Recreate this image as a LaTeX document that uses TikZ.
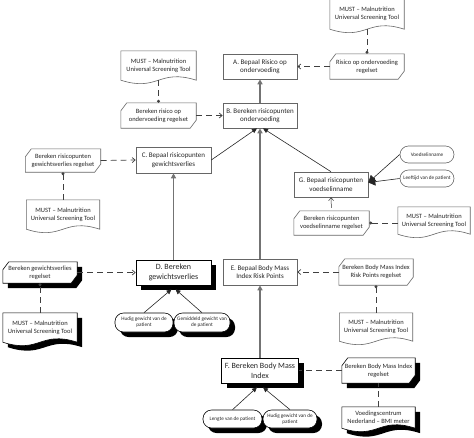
\documentclass[tikz,border=0pt]{standalone}
\usepackage{fontspec}
\setmainfont{Carlito}
\usetikzlibrary{arrows.meta,calc,shadows}
\pgfdeclarelayer{bg}
\pgfsetlayers{bg,main}
\tikzset{
  txt/.style={text=black!85, inner sep=0pt, align=center},
  box/.style={txt, draw=black!60, line width=0.6pt, fill=white, minimum width=74pt, minimum height=25pt, font=\fontsize{7}{8.5}\selectfont},
  blackshadow/.style={drop shadow={shadow xshift=5pt, shadow yshift=-5pt, fill=black, opacity=1}},
  bigbox/.style={box, draw=black, font=\fontsize{8}{10}\selectfont, blackshadow},
  reg/.style={txt, minimum width=74pt, minimum height=25pt, font=\fontsize{6.5}{8}\selectfont},
  doc/.style={txt, minimum width=74pt, minimum height=29pt, font=\fontsize{6.5}{8}\selectfont},
  pill/.style={txt, draw=black!60, line width=0.6pt, fill=white, rounded corners=8.5pt, minimum width=56pt, minimum height=18pt, font=\fontsize{5.2}{6.2}\selectfont},
  pillshadow/.style={pill, draw=black, blackshadow},
  outline/.style={draw=black!60, line width=0.6pt, fill=white},
  dashline/.style={draw=black!75, line width=0.7pt, dash pattern=on 6pt off 4pt},
  dasharrow/.style={dashline, -{Straight Barb[length=3pt,width=5pt]}},
  dotline/.style={dashline, -{Circle[length=3pt]}},
  thickarrow/.style={draw=black!55, line width=1.4pt, -{Triangle[length=5pt,width=5pt]}},
  thinarrow/.style={draw=black!85, line width=0.6pt, -{Triangle[length=5pt,width=4.5pt]}},
  bigtri/.style={draw=black!85, line width=0.6pt, -{Triangle[length=7pt,width=8pt]}},
  openarrow/.style={draw=black!80, line width=0.5pt, -{Straight Barb[length=3pt,width=5pt]}},
}
\newcommand\regshape[2][]{%
  \begin{pgfonlayer}{bg}
  \path[outline,#1] ([xshift=6pt]#2.north west) -- (#2.north east) -- ([yshift=8pt]#2.south east)
    -- ([xshift=-6pt]#2.south east) -- (#2.south west) -- ([yshift=-8pt]#2.north west) -- cycle;
  \end{pgfonlayer}}
\newcommand\docshape[2][]{%
  \begin{pgfonlayer}{bg}
  \path[outline,#1] (#2.north west) -- (#2.north east) -- (#2.south east)
    .. controls ([yshift=12pt]#2.south) and ([yshift=-12pt]#2.south) .. (#2.south west) -- cycle;
  \end{pgfonlayer}}
\begin{document}
\begin{tikzpicture}[x=1pt,y=-1pt]
\useasboundingbox (0,0) rectangle (474,437);
% process boxes
\node[box] (A) at (260,66.5) {A. Bepaal Risico op\\ondervoeding};
\node[box] (B) at (260,115.5) {B. Bereken risicopunten\\ondervoeding};
\node[box, minimum width=75pt, minimum height=26pt] (C) at (173.5,160) {C. Bepaal risicopunten\\gewichtsverlies};
\node[box] (G) at (331,184.5) {G. Bepaal risicopunten\\voedselinname};
\node[bigbox, minimum width=75pt] (D) at (173.5,272.5) {D. Bereken\\gewichtsverlies};
\node[box, minimum height=26pt] (E) at (260,272) {E. Bepaal Body Mass\\Index Risk Points};
\node[bigbox, minimum width=77pt] (F) at (260,370.5) {F. Bereken Body Mass\\Index};
% regelset shapes
\node[reg] (RA) at (367,66.5) {Risico op ondervoeding\\regelset};
\regshape{RA}
\node[reg, minimum width=75pt] (RB) at (158.5,115.5) {Bereken risico op\\ondervoeding regelset};
\regshape{RB}
\node[reg, minimum width=75pt, minimum height=23pt] (RC) at (63,160.5) {Bereken risicopunten\\gewichtsverlies regelset};
\regshape{RC}
\node[reg, minimum width=75pt, minimum height=24pt] (RG) at (331.5,223) {Bereken risicopunten\\voedselinname regelset};
\regshape{RG}
\node[reg, minimum height=21pt] (RD) at (40,272.5) {Bereken gewichtsverlies\\regelset};
\regshape[draw=black, blackshadow]{RD}
\node[reg, minimum height=26pt] (RE) at (376,272) {Bereken Body Mass Index\\Risk Points regelset};
\regshape{RE}
\node[reg, minimum width=73pt] (RF) at (378.5,370.5) {Bereken Body Mass Index\\regelset};
\regshape[draw=black, blackshadow]{RF}
% documents
\node[doc, minimum height=31pt] (M1) at (367,13.5) {MUST -- Malnutrition\\Universal Screening Tool};
\docshape{M1}
\node[doc, minimum width=75pt] (M2) at (158.5,65.5) {MUST -- Malnutrition\\Universal Screening Tool};
\docshape{M2}
\node[doc, minimum width=73pt] (M3) at (63,214.5) {MUST -- Malnutrition\\Universal Screening Tool};
\docshape{M3}
\node[doc, minimum width=72pt, minimum height=27pt] (M4) at (434,220.5) {MUST -- Malnutrition\\Universal Screening Tool};
\docshape{M4}
\node[doc, minimum width=73pt, minimum height=28pt] (M5) at (376,327) {MUST -- Malnutrition\\Universal Screening Tool};
\docshape{M5}
\node[doc] (M6) at (40,327.5) {MUST -- Malnutrition\\Universal Screening Tool};
\docshape[draw=black, blackshadow]{M6}
\node[doc, minimum width=73pt, minimum height=21pt] (M7) at (378.5,417.5) {Voedingscentrum\\Nederland -- BMI meter};
\docshape[draw=black, blackshadow]{M7}
% terminals
\node[pill, minimum width=54pt, minimum height=17pt] (V) at (427,154.5) {Voedselinname};
\node[pill, minimum width=54pt, minimum height=17pt] (L) at (427,178.5) {Leeftijd van de patient};
\node[pillshadow, minimum width=58pt, minimum height=19pt] (H1) at (144,322.5) {Hudig gewicht van de\\patient};
\node[pillshadow, minimum height=19pt] (G1) at (202,322.5) {Gemiddeld gewicht van\\de patient};
\node[pillshadow, minimum width=59pt] (Lp) at (232.5,419) {Lengte van de patient};
\node[pillshadow, minimum width=54pt] (H2) at (290,419) {Hudig gewicht van de\\patient};
% connectors
\draw[dotline] (M1.south) -- (RA.north);
\draw[dasharrow] (RA.west) -- (A.east);
\draw[thickarrow] (B.north) -- (A.south);
\draw[dotline] (M2.south) -- (RB.north);
\draw[dasharrow] (RB.east) -- (B.west);
\draw[thinarrow] (C.east) -- ([xshift=-3pt]B.south);
\draw[thickarrow] (E.north) -- (B.south);
\draw[thinarrow] (G.north) -- ([xshift=3pt]B.south);
\draw[dasharrow] (RC.east) -- (C.west);
\draw[dotline] (M3.north) -- (RC.south);
\draw[bigtri] (V.west) -- ([yshift=2pt]G.east);
\draw[bigtri] (L.west) -- ([yshift=2pt]G.east);
\draw[openarrow, shorten <=3pt] (RG.north) -- (G.south);
\draw[dotline] (RG.east -| M4.west) -- (RG.east);
\draw[thickarrow] (D.north) -- (C.south);
\draw[dasharrow] (RD.east) -- (D.west);
\draw[dotline] (M6.north) -- (RD.south);
\draw[thinarrow] (H1.north) -- ([xshift=-2pt,yshift=-4pt]D.south);
\draw[thinarrow] (G1.north) -- ([xshift=2pt,yshift=-4pt]D.south);
\draw[thickarrow] (F.north) -- (E.south);
\draw[dasharrow] (RE.west) -- (E.east);
\draw[dotline] (M5.north) -- (RE.south);
\draw[dashline] (RF.west) -- (F.east);
\draw[dashline] (M7.north) -- (RF.south);
\draw[thinarrow] (Lp.north) -- ([xshift=-3pt,yshift=-4pt]F.south);
\draw[thinarrow] (H2.north) -- ([xshift=3pt,yshift=-4pt]F.south);
\end{tikzpicture}
\end{document}
